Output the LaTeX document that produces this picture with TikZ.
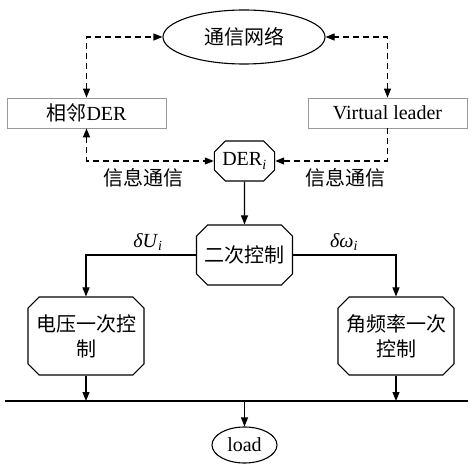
\documentclass[tikz,border=0pt]{standalone}
\usepackage{fontspec}
\setmainfont{Liberation Serif}
\newfontfamily\cjk{Noto Sans CJK SC}
\usetikzlibrary{shapes.geometric,shapes.misc,arrows.meta}
\begin{document}
\begin{tikzpicture}[x=1pt,y=-1pt,line width=1.1pt,
  every node/.style={font=\fontsize{20}{25}\selectfont, inner sep=0pt},
  tip/.tip={Triangle[length=9pt,width=7pt]},
  dl/.style={dash pattern=on 6pt off 4pt},
  cbox/.style={chamfered rectangle, chamfered rectangle xsep=8pt, draw, align=center},
  gbox/.style={rectangle, draw=gray!80, line width=0.8pt, minimum width=159pt, minimum height=30pt},
  oval/.style={ellipse, draw}]
\useasboundingbox (0,0) rectangle (474,470);
\node[oval, minimum width=162pt, minimum height=54pt] (net) at (244,37) {\cjk 通信网络};
\node[gbox] (lbox) at (86.5,113) {{\cjk 相邻}DER};
\node[gbox] (rbox) at (387.5,113) {Virtual leader};
\node[cbox, minimum width=49pt, minimum height=40pt] (der) at (244.5,161) {DER\textsubscript{\textit{i}}};
\node[cbox, minimum width=85pt, minimum height=60pt] (sec) at (244.5,255) {\cjk 二次控制};
\node[cbox, minimum width=106pt, minimum height=78pt] (vbox) at (86,336) {\cjk 电压一次控\\\cjk 制};
\node[cbox, minimum width=106pt, minimum height=78pt] (fbox) at (396,336) {\cjk 角频率一次\\\cjk 控制};
\node[oval, minimum width=65pt, minimum height=36pt] (load) at (244.5,445) {load};
\node (l1) at (143,178) {\cjk 信息通信};
\node (l2) at (345,178) {\cjk 信息通信};
\node (du) at (148,242) {\textit{δU}\textsubscript{\textit{i}}};
\node (dw) at (344,242) {\textit{δω}\textsubscript{\textit{i}}};
\coordinate (busL) at (5,401);
\coordinate (busR) at (468,401);
\draw[dl,{tip}-{tip}] (lbox.north) |- (net.west);
\draw[dl,{tip}-{tip}] (rbox.north) |- (net.east);
\draw[dl,{tip}-{tip}] (lbox.south) |- (der.west);
\draw[dl,-{tip}] (rbox.south) |- (der.east);
\draw[-{tip}] (der) -- (sec);
\draw[-{tip}] (sec.west) -| (vbox.north);
\draw[-{tip}] (sec.east) -| (fbox.north);
\draw (busL) -- (busR);
\draw[-{tip}] (vbox.south) -- (vbox.south |- busL);
\draw[-{tip}] (fbox.south) -- (fbox.south |- busL);
\draw[-{tip}] (load.north |- busL) -- (load.north);
\end{tikzpicture}
\end{document}
